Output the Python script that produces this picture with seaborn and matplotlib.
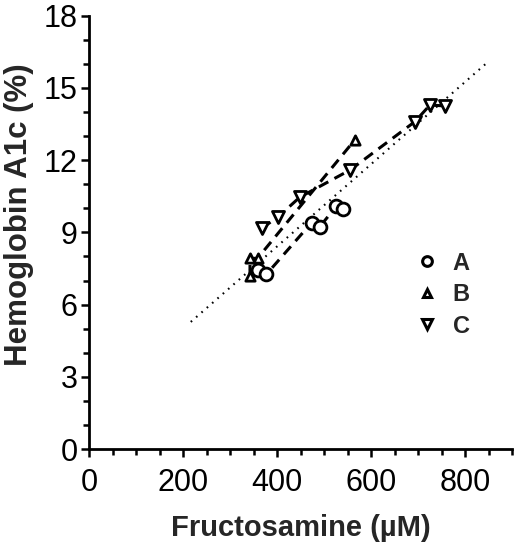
import numpy as np
import pandas as pd
import matplotlib
matplotlib.use("Agg")
import matplotlib.pyplot as plt
from matplotlib.lines import Line2D
from matplotlib.ticker import MultipleLocator
import seaborn as sns

# values
subjects = ["A", "B", "C"]
fruct_A = [360, 377, 473, 491, 526, 539]
hba1c_A = [7.44, 7.26, 9.40, 9.24, 10.10, 9.96]
fruct_B = [342, 342, 358, 565]
hba1c_B = [7.92, 7.20, 7.92, 12.84]
fruct_C = [367, 402, 448, 555, 693, 725, 758]
hba1c_C = [9.17, 9.65, 10.46, 11.59, 13.60, 14.29, 14.25]

# overall regression line (dotted), end points
fit_x = [216, 849]
fit_y = [5.28, 16.09]

x_ticks = [0, 200, 400, 600, 800]
y_ticks = [0, 3, 6, 9, 12, 15, 18]

df = pd.concat([
    pd.DataFrame({"fructosamine": fruct_A, "hba1c": hba1c_A, "subject": "A"}),
    pd.DataFrame({"fructosamine": fruct_B, "hba1c": hba1c_B, "subject": "B"}),
    pd.DataFrame({"fructosamine": fruct_C, "hba1c": hba1c_C, "subject": "C"}),
], ignore_index=True)

sns.set_theme(style="ticks")
plt.rcParams["font.family"] = ["Liberation Sans", "DejaVu Sans"]

fig, ax = plt.subplots(figsize=(5.2, 5.51), dpi=100)
fig.subplots_adjust(left=0.1717, right=0.985, bottom=0.1851, top=0.9715)

sns.lineplot(x=fit_x, y=fit_y, ax=ax, color="black", lw=1.5,
             linestyle=(0, (0.8, 2.6)))

markers = {"A": "o", "B": "^", "C": "v"}
sizes = {"A": 85, "B": 45, "C": 75}
for s in subjects:
    sub = df[df.subject == s]
    sns.lineplot(data=sub, x="fructosamine", y="hba1c", ax=ax, color="black",
                 lw=2.2, linestyle=(0, (3.5, 2.3)), estimator=None, sort=True)
    sns.scatterplot(data=sub, x="fructosamine", y="hba1c", ax=ax,
                    marker=markers[s], s=sizes[s], facecolor="white",
                    edgecolor="black", linewidth=2.0, zorder=3)

ax.set_xlim(0, 900)
ax.set_ylim(0, 18)
ax.set_xticks(x_ticks)
ax.set_yticks(y_ticks)
ax.xaxis.set_minor_locator(MultipleLocator(50))
ax.yaxis.set_minor_locator(MultipleLocator(1))
ax.tick_params(which="major", length=5.5, width=1.8, labelsize=22,
               color="black", labelcolor="black")
ax.tick_params(axis="x", which="major", pad=8)
ax.tick_params(axis="y", which="major", pad=3)
ax.tick_params(which="minor", length=4, width=1.8, color="black")
sns.despine(ax=ax)
for side in ["left", "bottom"]:
    ax.spines[side].set_linewidth(2)
    ax.spines[side].set_color("black")

ax.set_xlabel("Fructosamine (\u00b5M)", fontsize=21, fontweight="bold",
              labelpad=12)
ax.set_ylabel("Hemoglobin A1c (%)", fontsize=22.5, fontweight="bold")
ax.yaxis.set_label_coords(-0.13, 0.54)

handles = [
    Line2D([], [], ls="none", marker="o", ms=7, mfc="white", mec="black", mew=2.2),
    Line2D([], [], ls="none", marker="^", ms=5.5, mfc="white", mec="black", mew=2.2),
    Line2D([], [], ls="none", marker="v", ms=7, mfc="white", mec="black", mew=2.2),
]
leg = ax.legend(handles, subjects, loc="center left",
                bbox_to_anchor=(0.72, 0.356), frameon=False,
                handlelength=1.0, handletextpad=0.6, labelspacing=0.36,
                prop={"size": 17, "weight": "bold"})

fig.savefig("out.png", dpi=100)
